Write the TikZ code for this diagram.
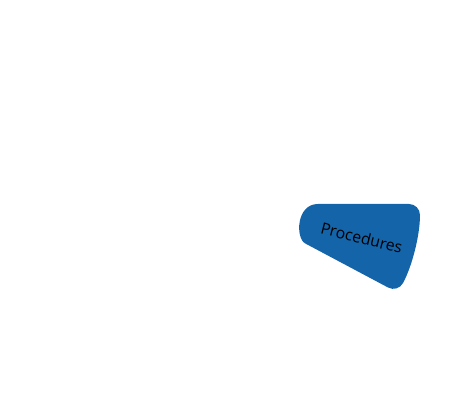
\documentclass[tikz,border=0pt]{standalone}
\usepackage{fontspec}
\setmainfont{Open Sans}
\definecolor{segblue}{RGB}{20,100,170}
\tikzset{segment/.style={fill=segblue,draw=none,rounded corners=11pt},
  seglabel/.style={font=\fontsize{15.8}{18}\selectfont,text=black}}
\begin{document}
\begin{tikzpicture}[x=1pt,y=1pt]
\useasboundingbox (0,0) rectangle (459,402);
\coordinate (o) at (231,198);
\coordinate (t) at ([shift={(0:87)}]o);
\coordinate (b) at ([shift={(-28:95)}]o);
\path[segment] (t) -- ([shift={(0:189)}]o)
  arc[start angle=0,end angle=-28,radius=189]
  -- (b) [sharp corners] .. controls ([shift={(-28:73)}]o) and ([shift={(0:65)}]o) .. (t) -- cycle;
\node[seglabel,rotate=-14] (lbl) at ([shift={(-14.5:135)}]o) {Procedures};
\end{tikzpicture}
\end{document}
